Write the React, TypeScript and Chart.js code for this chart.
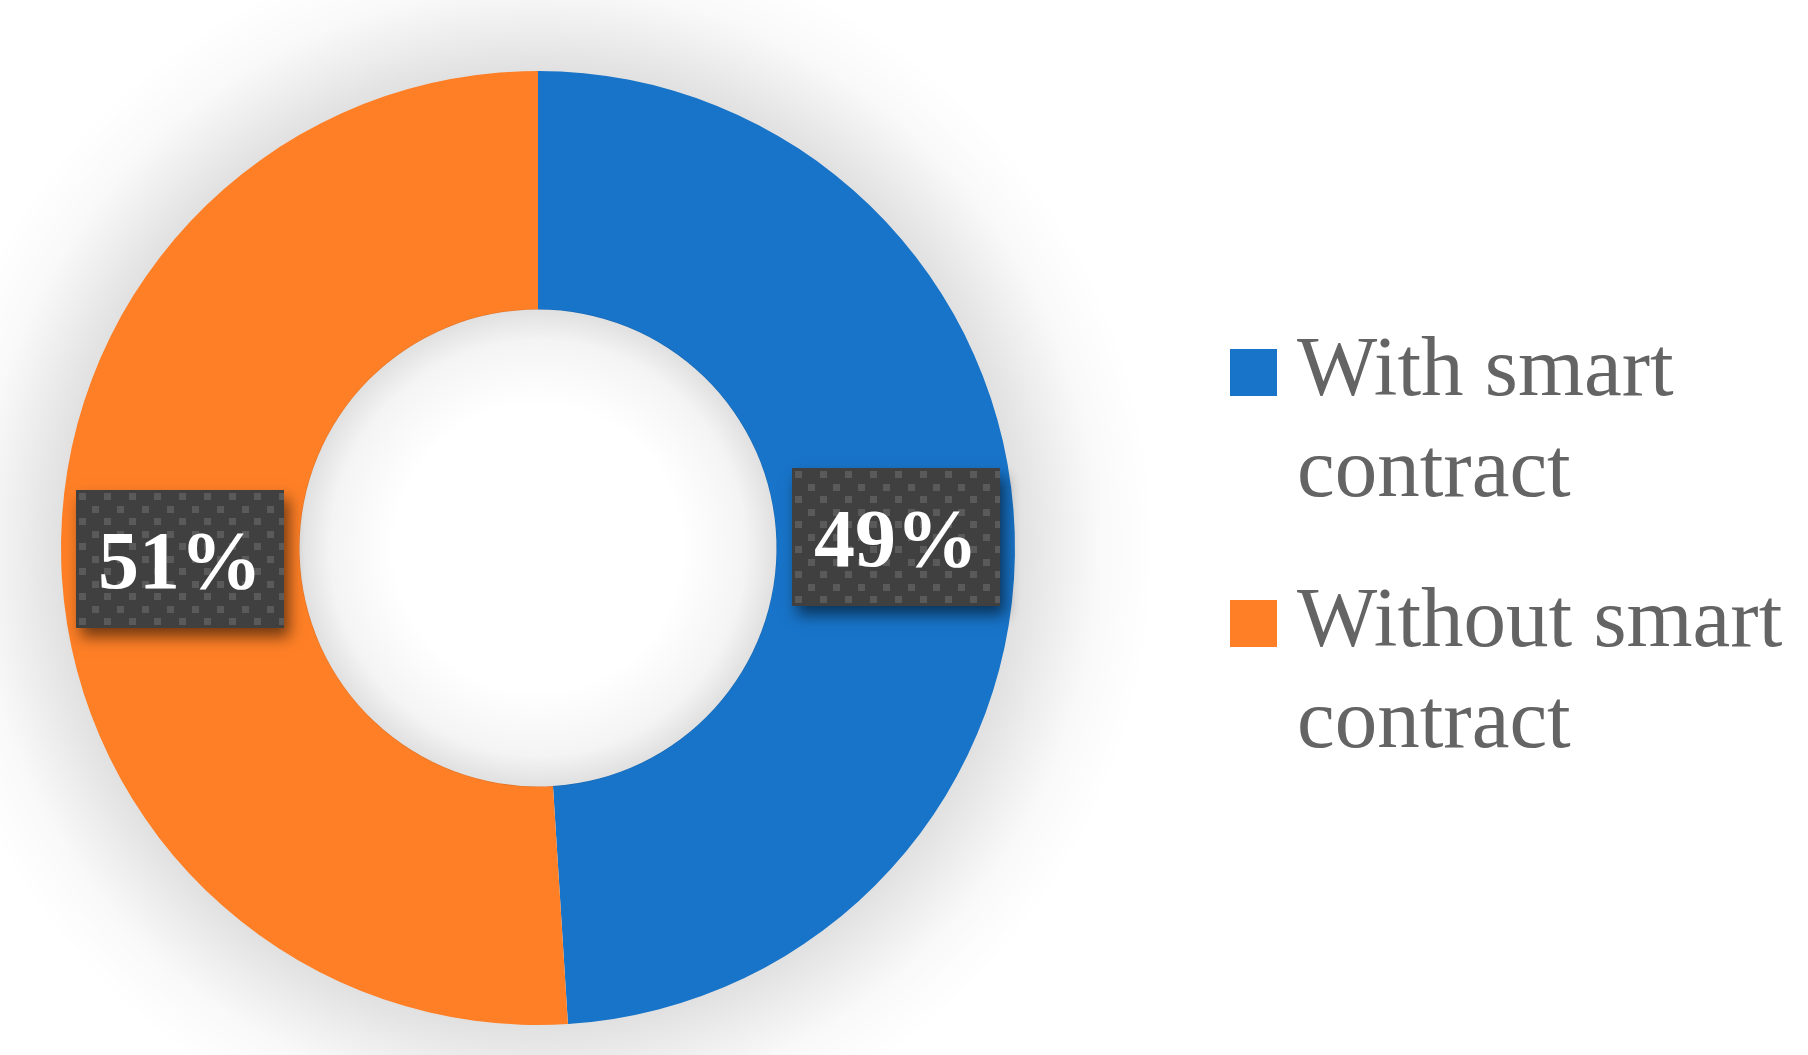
import React, { useEffect, useRef } from "react";
import { Chart, registerables } from "chart.js";

Chart.register(...registerables);

const categories = ["With smart contract", "Without smart contract"];
const values = [49, 51];
const colors = ["#1874c9", "#fe7f26"];

const W = 1808;
const H = 1055;

function wrapText(ctx: CanvasRenderingContext2D, text: string, maxW: number): string[] {
  const words = text.split(" ");
  const lines: string[] = [];
  let cur = "";
  for (const w of words) {
    const test = cur ? cur + " " + w : w;
    if (ctx.measureText(test).width > maxW && cur) {
      lines.push(cur);
      cur = w;
    } else cur = test;
  }
  if (cur) lines.push(cur);
  return lines;
}

const shadowPlugin = {
  id: "donutShadows",
  beforeDatasetsDraw(chart: any) {
    const arc = chart.getDatasetMeta(0).data[0];
    if (!arc) return;
    const { x, y, outerRadius } = arc.getProps(["x", "y", "outerRadius"], true);
    const ctx = chart.ctx;
    ctx.save();
    const ext = 140;
    const g = ctx.createRadialGradient(x, y, outerRadius - 2, x, y, outerRadius + ext);
    g.addColorStop(0, "rgba(0,0,0,0.12)");
    g.addColorStop(0.3, "rgba(0,0,0,0.07)");
    g.addColorStop(0.6, "rgba(0,0,0,0.025)");
    g.addColorStop(1, "rgba(0,0,0,0)");
    ctx.fillStyle = g;
    ctx.beginPath();
    ctx.arc(x, y, outerRadius + ext, 0, Math.PI * 2);
    ctx.arc(x, y, outerRadius - 1, 0, Math.PI * 2, true);
    ctx.fill("evenodd");
    ctx.restore();
  },
  afterDatasetsDraw(chart: any) {
    const arc = chart.getDatasetMeta(0).data[0];
    if (!arc) return;
    const { x, y, innerRadius } = arc.getProps(["x", "y", "innerRadius"], true);
    const ctx = chart.ctx;
    ctx.save();
    const g = ctx.createRadialGradient(x, y, 0, x, y, innerRadius);
    g.addColorStop(0, "rgba(0,0,0,0)");
    g.addColorStop(0.6, "rgba(0,0,0,0)");
    g.addColorStop(0.87, "rgba(0,0,0,0.045)");
    g.addColorStop(1, "rgba(0,0,0,0.12)");
    ctx.fillStyle = g;
    ctx.beginPath();
    ctx.arc(x, y, innerRadius + 0.5, 0, Math.PI * 2);
    ctx.fill();
    ctx.restore();
  },
};

const labelPlugin = {
  id: "boxLabels",
  afterDraw(chart: any) {
    const ctx = chart.ctx as CanvasRenderingContext2D;
    const meta = chart.getDatasetMeta(0);
    const data = chart.data.datasets[0].data as number[];
    const total = data.reduce((a, b) => a + b, 0);
    const bw = 208;
    const bh = 138;
    meta.data.forEach((el: any, i: number) => {
      const p = el.tooltipPosition(true);
      const bx = Math.round(p.x - bw / 2);
      const by = Math.round(p.y - bh / 2);
      ctx.save();
      ctx.shadowColor = "rgba(0,0,0,0.55)";
      ctx.shadowBlur = 14;
      ctx.shadowOffsetX = 5;
      ctx.shadowOffsetY = 9;
      ctx.fillStyle = "#404040";
      ctx.fillRect(bx, by, bw, bh);
      ctx.restore();
      // dot pattern
      ctx.save();
      ctx.beginPath();
      ctx.rect(bx, by, bw, bh);
      ctx.clip();
      ctx.fillStyle = "#5a5a5a";
      const step = 12.5;
      for (let r = 0; r * step < bh + step; r++) {
        const off = r % 2 === 0 ? 3 : 3 + step;
        for (let c = -1; c * 25 < bw + 25; c++) {
          ctx.fillRect(Math.round(bx + off + c * 25), Math.round(by + 3 + r * step), 7, 7);
        }
      }
      ctx.restore();
      ctx.save();
      ctx.fillStyle = "#ffffff";
      ctx.font = "bold 82px 'Liberation Serif'";
      ctx.textAlign = "center";
      ctx.textBaseline = "alphabetic";
      const txt = Math.round((data[i] / total) * 100) + "%";
      ctx.fillText(txt, bx + bw / 2, by + bh / 2 + 29);
      ctx.restore();
    });

    // legend
    const lx = 1230;
    let top = 349;
    ctx.save();
    ctx.font = "85px 'Liberation Serif'";
    ctx.textBaseline = "alphabetic";
    ctx.textAlign = "left";
    const labels = chart.data.labels as string[];
    labels.forEach((lab, i) => {
      ctx.fillStyle = (chart.data.datasets[0].backgroundColor as string[])[i];
      ctx.fillRect(lx, top, 47, 47);
      ctx.fillStyle = "#646464";
      const lines = wrapText(ctx, lab, 530);
      lines.forEach((ln, j) => {
        ctx.fillText(ln, lx + 67, top + 46 + j * 101);
      });
      top += lines.length * 101 + 49;
    });
    ctx.restore();
  },
};

export default function App() {
  const ref = useRef<HTMLCanvasElement | null>(null);
  useEffect(() => {
    if (!ref.current) return;
    const chart = new Chart(ref.current, {
      type: "doughnut",
      data: {
        labels: categories,
        datasets: [
          {
            data: values,
            backgroundColor: colors,
            borderWidth: 0,
            hoverOffset: 0,
          },
        ],
      },
      options: {
        responsive: false,
        animation: false,
        cutout: "50%",
        layout: { padding: { left: 61, right: 793, top: 71, bottom: 30 } },
        plugins: {
          legend: { display: false },
          tooltip: { enabled: false },
        },
        events: [],
      },
      plugins: [shadowPlugin, labelPlugin],
    });
    return () => chart.destroy();
  }, []);
  return (
    <div style={{ position: "fixed", left: 0, top: 0, width: W, height: H, background: "#ffffff" }}>
      <canvas ref={ref} width={W} height={H} style={{ display: "block", width: W, height: H }} />
    </div>
  );
}
